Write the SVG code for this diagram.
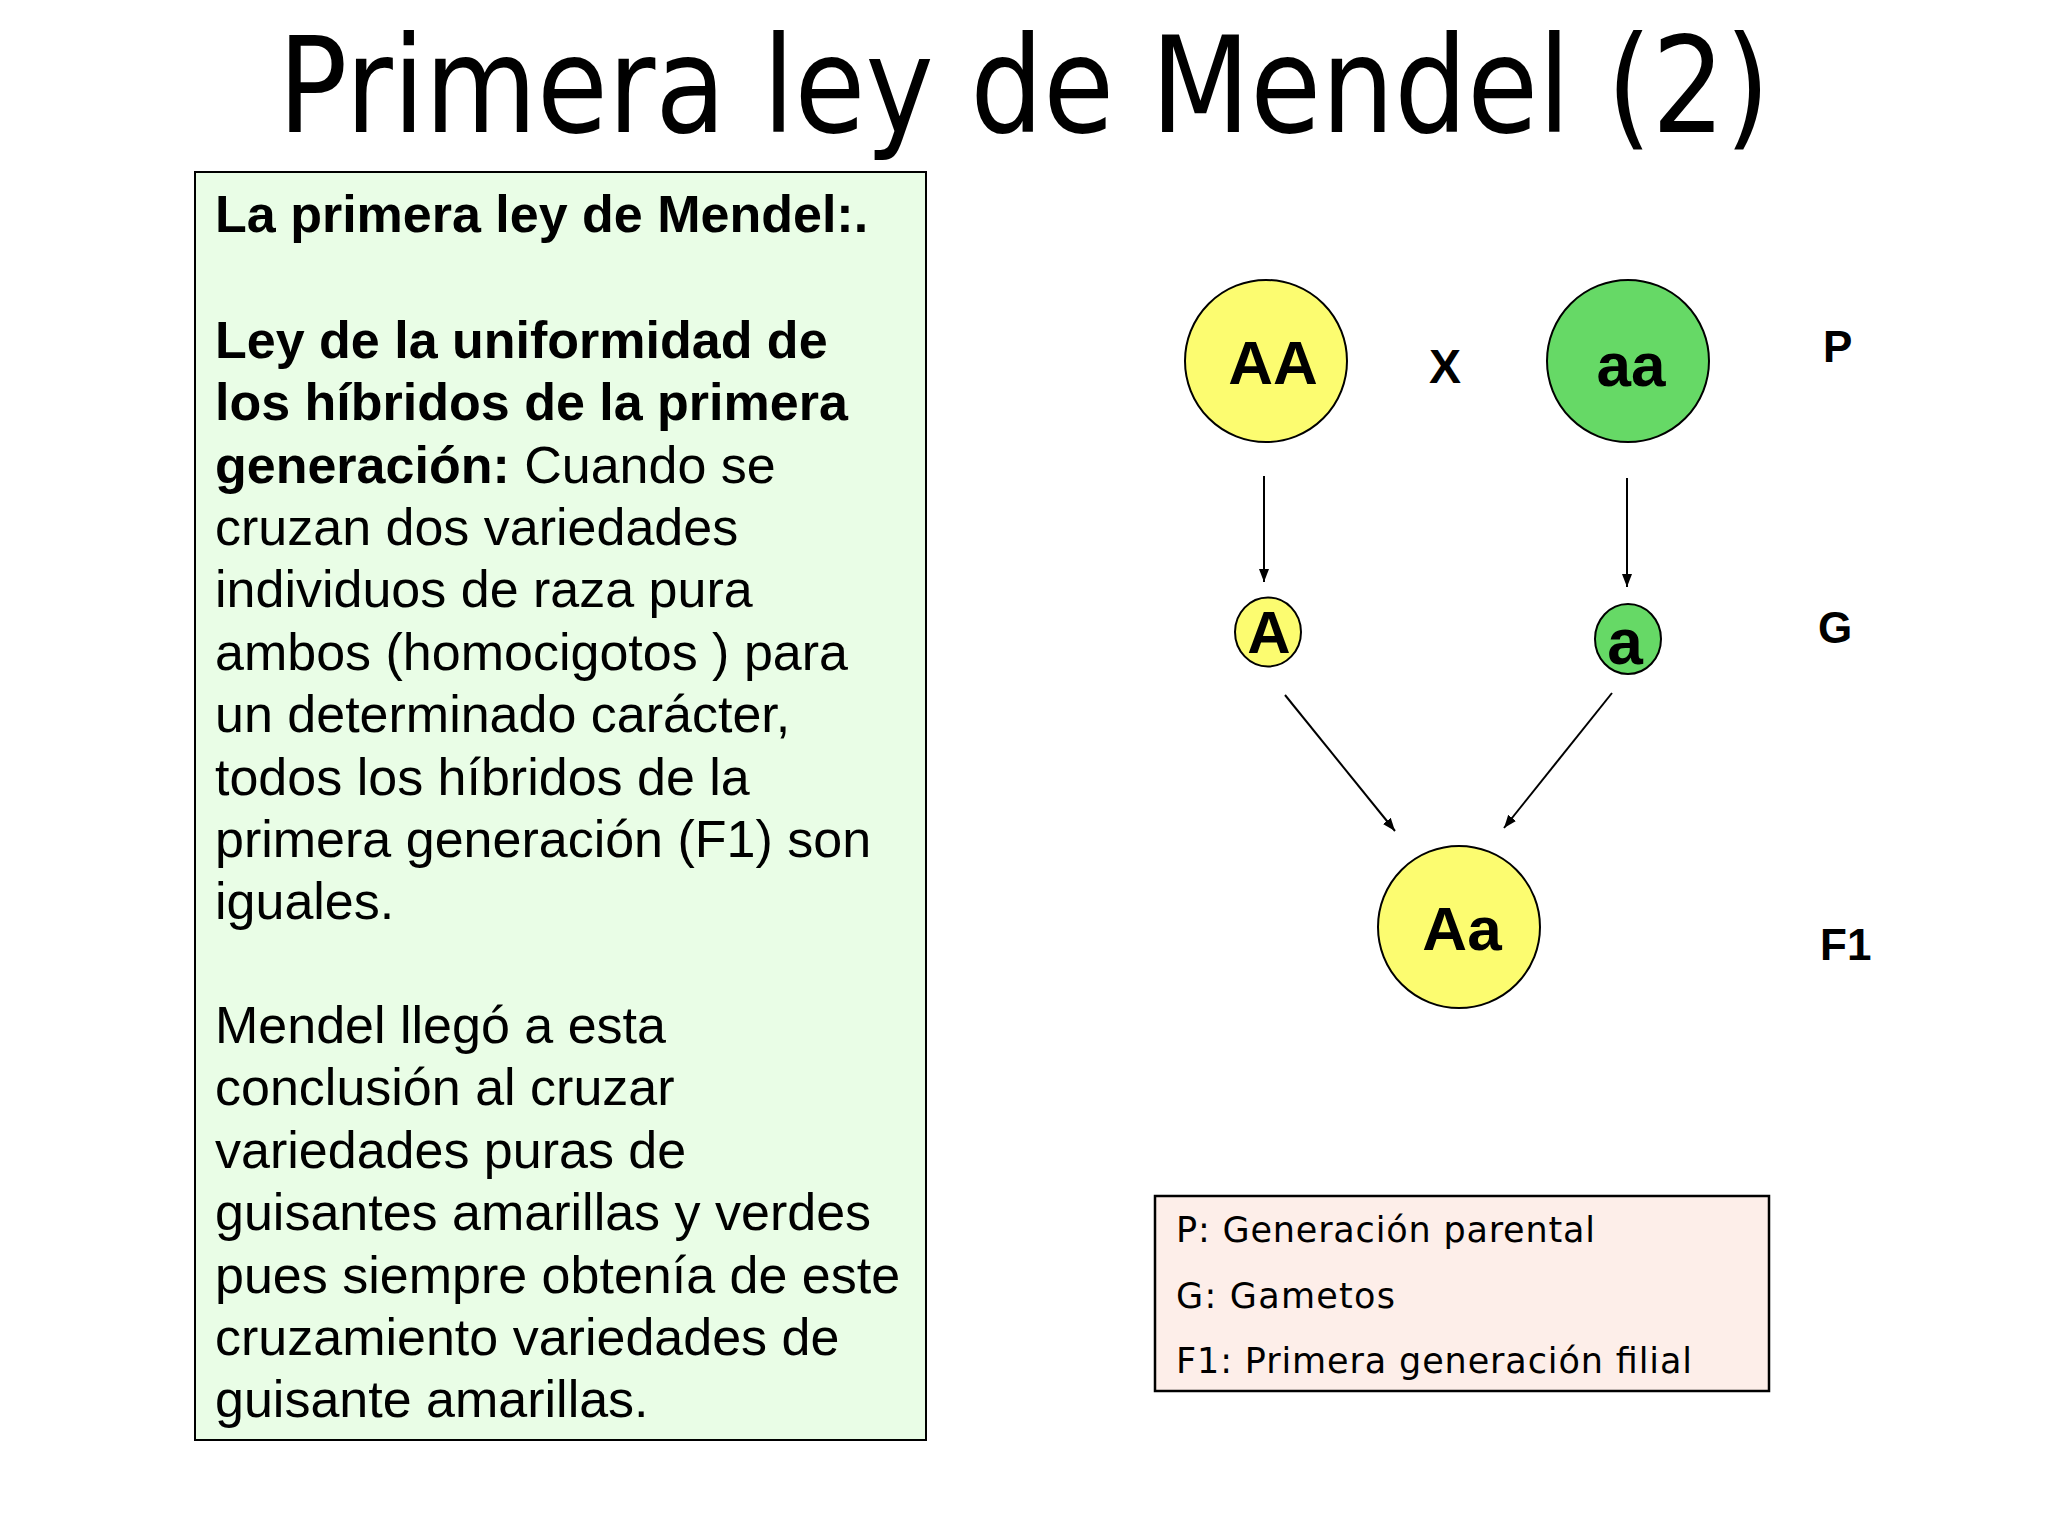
<svg xmlns="http://www.w3.org/2000/svg" width="2048" height="1536" viewBox="0 0 2048 1536">
<style>
.title{font-family:"DejaVu Sans","Liberation Sans",sans-serif;font-size:133px;fill:#000}
.body{font-family:"Liberation Sans",Arial,sans-serif;font-size:52px;fill:#000}
.b{font-weight:bold}
.gene{font-family:"Liberation Sans",Arial,sans-serif;font-weight:bold;fill:#000;text-anchor:middle}
.lab{font-family:"Liberation Sans",Arial,sans-serif;font-weight:bold;font-size:44px;fill:#000}
.leg{font-family:"DejaVu Sans","Liberation Sans",sans-serif;font-size:35px;fill:#000}
.yel{fill:#fcfc70;stroke:#000;stroke-width:2}
.grn{fill:#66d966;stroke:#000;stroke-width:2}
.conn{stroke:#000;stroke-width:2;fill:none;marker-end:url(#arr)}
</style>
<defs>
<marker id="arr" markerUnits="userSpaceOnUse" viewBox="0 0 14 12" markerWidth="14" markerHeight="12" refX="13" refY="6" orient="auto">
<path d="M0,1 L13,6 L0,11 z" fill="#000"/>
</marker>
</defs>
<rect width="2048" height="1536" fill="#fff"/>
<text class="title" x="278" y="132" textLength="1492" lengthAdjust="spacingAndGlyphs">Primera ley de Mendel (2)</text>

<g id="textbox">
<rect x="195" y="172" width="731" height="1268" fill="#e9fde6" stroke="#000" stroke-width="2"/>
<text class="body b" x="215" y="232">La primera ley de Mendel:.</text>
<text class="body b" x="215" y="358">Ley de la uniformidad de</text>
<text class="body b" x="215" y="420">los híbridos de la primera</text>
<text class="body" x="215" y="483"><tspan class="b">generación:</tspan> Cuando se</text>
<text class="body" x="215" y="545">cruzan dos variedades</text>
<text class="body" x="215" y="607">individuos de raza pura</text>
<text class="body" x="215" y="670">ambos (homocigotos ) para</text>
<text class="body" x="215" y="732">un determinado carácter,</text>
<text class="body" x="215" y="795">todos los híbridos de la</text>
<text class="body" x="215" y="857">primera generación (F1) son</text>
<text class="body" x="215" y="919">iguales.</text>
<text class="body" x="215" y="1043">Mendel llegó a esta</text>
<text class="body" x="215" y="1105">conclusión al cruzar</text>
<text class="body" x="215" y="1168">variedades puras de</text>
<text class="body" x="215" y="1230">guisantes amarillas y verdes</text>
<text class="body" x="215" y="1293">pues siempre obtenía de este</text>
<text class="body" x="215" y="1355">cruzamiento variedades de</text>
<text class="body" x="215" y="1417">guisante amarillas.</text>
</g>

<g id="connectors">
<line class="conn" x1="1264" y1="476" x2="1264" y2="582"/>
<line class="conn" x1="1627" y1="478" x2="1627" y2="587"/>
<line class="conn" x1="1285" y1="695" x2="1395" y2="831"/>
<line class="conn" x1="1612" y1="693" x2="1504" y2="828"/>
</g>

<g id="node-AA">
<ellipse class="yel" cx="1266" cy="361" rx="81" ry="81"/>
<text class="gene" x="1273" y="384" font-size="62">AA</text>
</g>
<g id="cross">
<text class="gene" x="1445" y="383" font-size="48">X</text>
</g>
<g id="node-aa">
<ellipse class="grn" cx="1628" cy="361" rx="81" ry="81"/>
<text class="gene" x="1631" y="386" font-size="62">aa</text>
</g>
<g id="node-A">
<ellipse class="yel" cx="1268" cy="632" rx="33" ry="34.5"/>
<text class="gene" x="1269" y="653" font-size="60">A</text>
</g>
<g id="node-a">
<ellipse class="grn" cx="1628" cy="639" rx="33" ry="35"/>
<text class="gene" x="1625" y="664" font-size="64">a</text>
</g>
<g id="node-Aa">
<ellipse class="yel" cx="1459" cy="927" rx="81" ry="81"/>
<text class="gene" x="1462" y="950" font-size="62">Aa</text>
</g>

<g id="labels">
<text class="lab" x="1823" y="362">P</text>
<text class="lab" x="1818" y="643">G</text>
<text class="lab" x="1820" y="960">F1</text>
</g>

<g id="legend">
<rect x="1155" y="1196" width="614" height="195" fill="#fdeee9" stroke="#000" stroke-width="2.5"/>
<text class="leg" x="1176" y="1242" textLength="419" lengthAdjust="spacing">P: Generación parental</text>
<text class="leg" x="1176" y="1308" textLength="219" lengthAdjust="spacing">G: Gametos</text>
<text class="leg" x="1176" y="1373" textLength="516" lengthAdjust="spacing">F1: Primera generación filial</text>
</g>
</svg>
